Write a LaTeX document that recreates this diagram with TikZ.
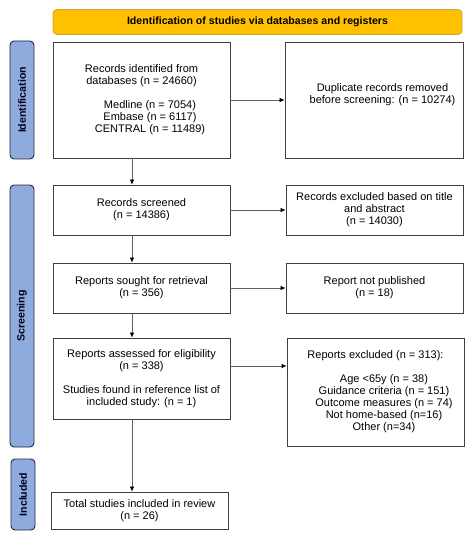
\documentclass[tikz,border=0pt]{standalone}
\usepackage{fontspec}
\setmainfont{Liberation Sans}
\usetikzlibrary{arrows.meta}
\definecolor{bannerfill}{HTML}{FFC000}
\definecolor{bannerdraw}{HTML}{C9A23C}
\definecolor{sidefill}{HTML}{8FAADC}
\definecolor{sidedraw}{HTML}{1F2D45}
\definecolor{boxdraw}{HTML}{404040}
\definecolor{arrdraw}{HTML}{606060}
\tikzset{
  flowbox/.style={draw=boxdraw, line width=0.9pt, fill=white, align=center,
    font=\fontsize{11}{12}\selectfont, inner sep=2pt},
  sidebar/.style={draw=sidedraw, line width=0.9pt, fill=sidefill, rounded corners=4pt,
    rotate=90, font=\fontsize{10.6}{12}\selectfont\bfseries, text=black!90!blue, inner sep=0pt},
  banner/.style={draw=bannerdraw, line width=0.8pt, fill=bannerfill, rounded corners=4pt,
    font=\fontsize{10.6}{12}\selectfont\bfseries, inner sep=0pt},
  arr/.style={draw=arrdraw, line width=0.6pt, -{Latex[length=5pt,width=4.5pt,color=black]}}
}
\newcommand{\rsh}{\hspace*{17pt}}
\begin{document}
\begin{tikzpicture}[x=1pt,y=-1pt]
\useasboundingbox[fill=white] (0,0) rectangle (474,540);
% banner and side bars
\node[banner, minimum width=409pt, minimum height=25pt] (ban) at (257.5,22) {Identification of studies via databases and registers};
\node[sidebar, minimum width=118pt, minimum height=24pt] (sid) at (22,100) {Identification};
\node[sidebar, minimum width=262pt, minimum height=24pt] (sscr) at (22,316) {Screening};
\node[sidebar, minimum width=71pt, minimum height=24pt] (sinc) at (23,494.5) {Included};
% boxes
\node[flowbox, minimum width=177pt, minimum height=116pt] (rec) at (141.5,100)
  {Records identified from\\databases (n = 24660)\\[12pt]\rsh Medline (n = 7054)\\\rsh Embase (n = 6117)\\\rsh CENTRAL (n = 11489)};
\node[flowbox, minimum width=178pt, minimum height=116pt] (dup) at (374,100)
  {\rsh Duplicate records removed\\\rsh before screening: (n = 10274)\\\mbox{}};
\node[flowbox, minimum width=177pt, minimum height=50pt] (scr) at (141.5,210)
  {Records screened\\(n = 14386)};
\node[flowbox, minimum width=177pt, minimum height=50pt] (exa) at (374.5,210)
  {Records excluded based on title\\and abstract\\(n = 14030)};
\node[flowbox, minimum width=177pt, minimum height=50pt] (sou) at (141.5,288)
  {Reports sought for retrieval\\(n = 356)};
\node[flowbox, minimum width=177pt, minimum height=50pt] (npb) at (374.5,288)
  {Report not published\\(n = 18)};
\node[flowbox, minimum width=177pt, minimum height=81pt] (ass) at (141.5,378.5)
  {Reports assessed for eligibility\\(n = 338)\\[12pt]Studies found in reference list of\\included study: (n = 1)};
\node[flowbox, minimum width=177pt, minimum height=108pt] (exb) at (375.5,392)
  {Reports excluded (n = 313):\\[12pt]\rsh Age <65y (n = 38)\\\rsh Guidance criteria (n = 151)\\\rsh Outcome measures (n = 74)\\\rsh Not home-based (n=16)\\\rsh Other (n=34)};
\node[flowbox, minimum width=177pt, minimum height=37pt] (tot) at (139.5,510.5)
  {Total studies included in review\\(n = 26)};
% connectors
\draw[arr] (rec.east) -- (dup.west);
\draw[arr] (scr.east) -- (exa.west);
\draw[arr] (sou.east) -- (npb.west);
\draw[arr] ([yshift=12.5pt]ass.east) -- ([yshift=12.5pt]ass.east -| exb.west);
\draw[arr] ([xshift=-9.5pt]rec.south) -- ([xshift=-9.5pt]rec.south |- scr.north);
\draw[arr] ([xshift=-9.5pt]scr.south) -- ([xshift=-9.5pt]scr.south |- sou.north);
\draw[arr] ([xshift=-9.5pt]sou.south) -- ([xshift=-9.5pt]sou.south |- ass.north);
\draw[arr] ([xshift=-9.5pt]ass.south) -- ([xshift=-9.5pt]ass.south |- tot.north);
\end{tikzpicture}
\end{document}
